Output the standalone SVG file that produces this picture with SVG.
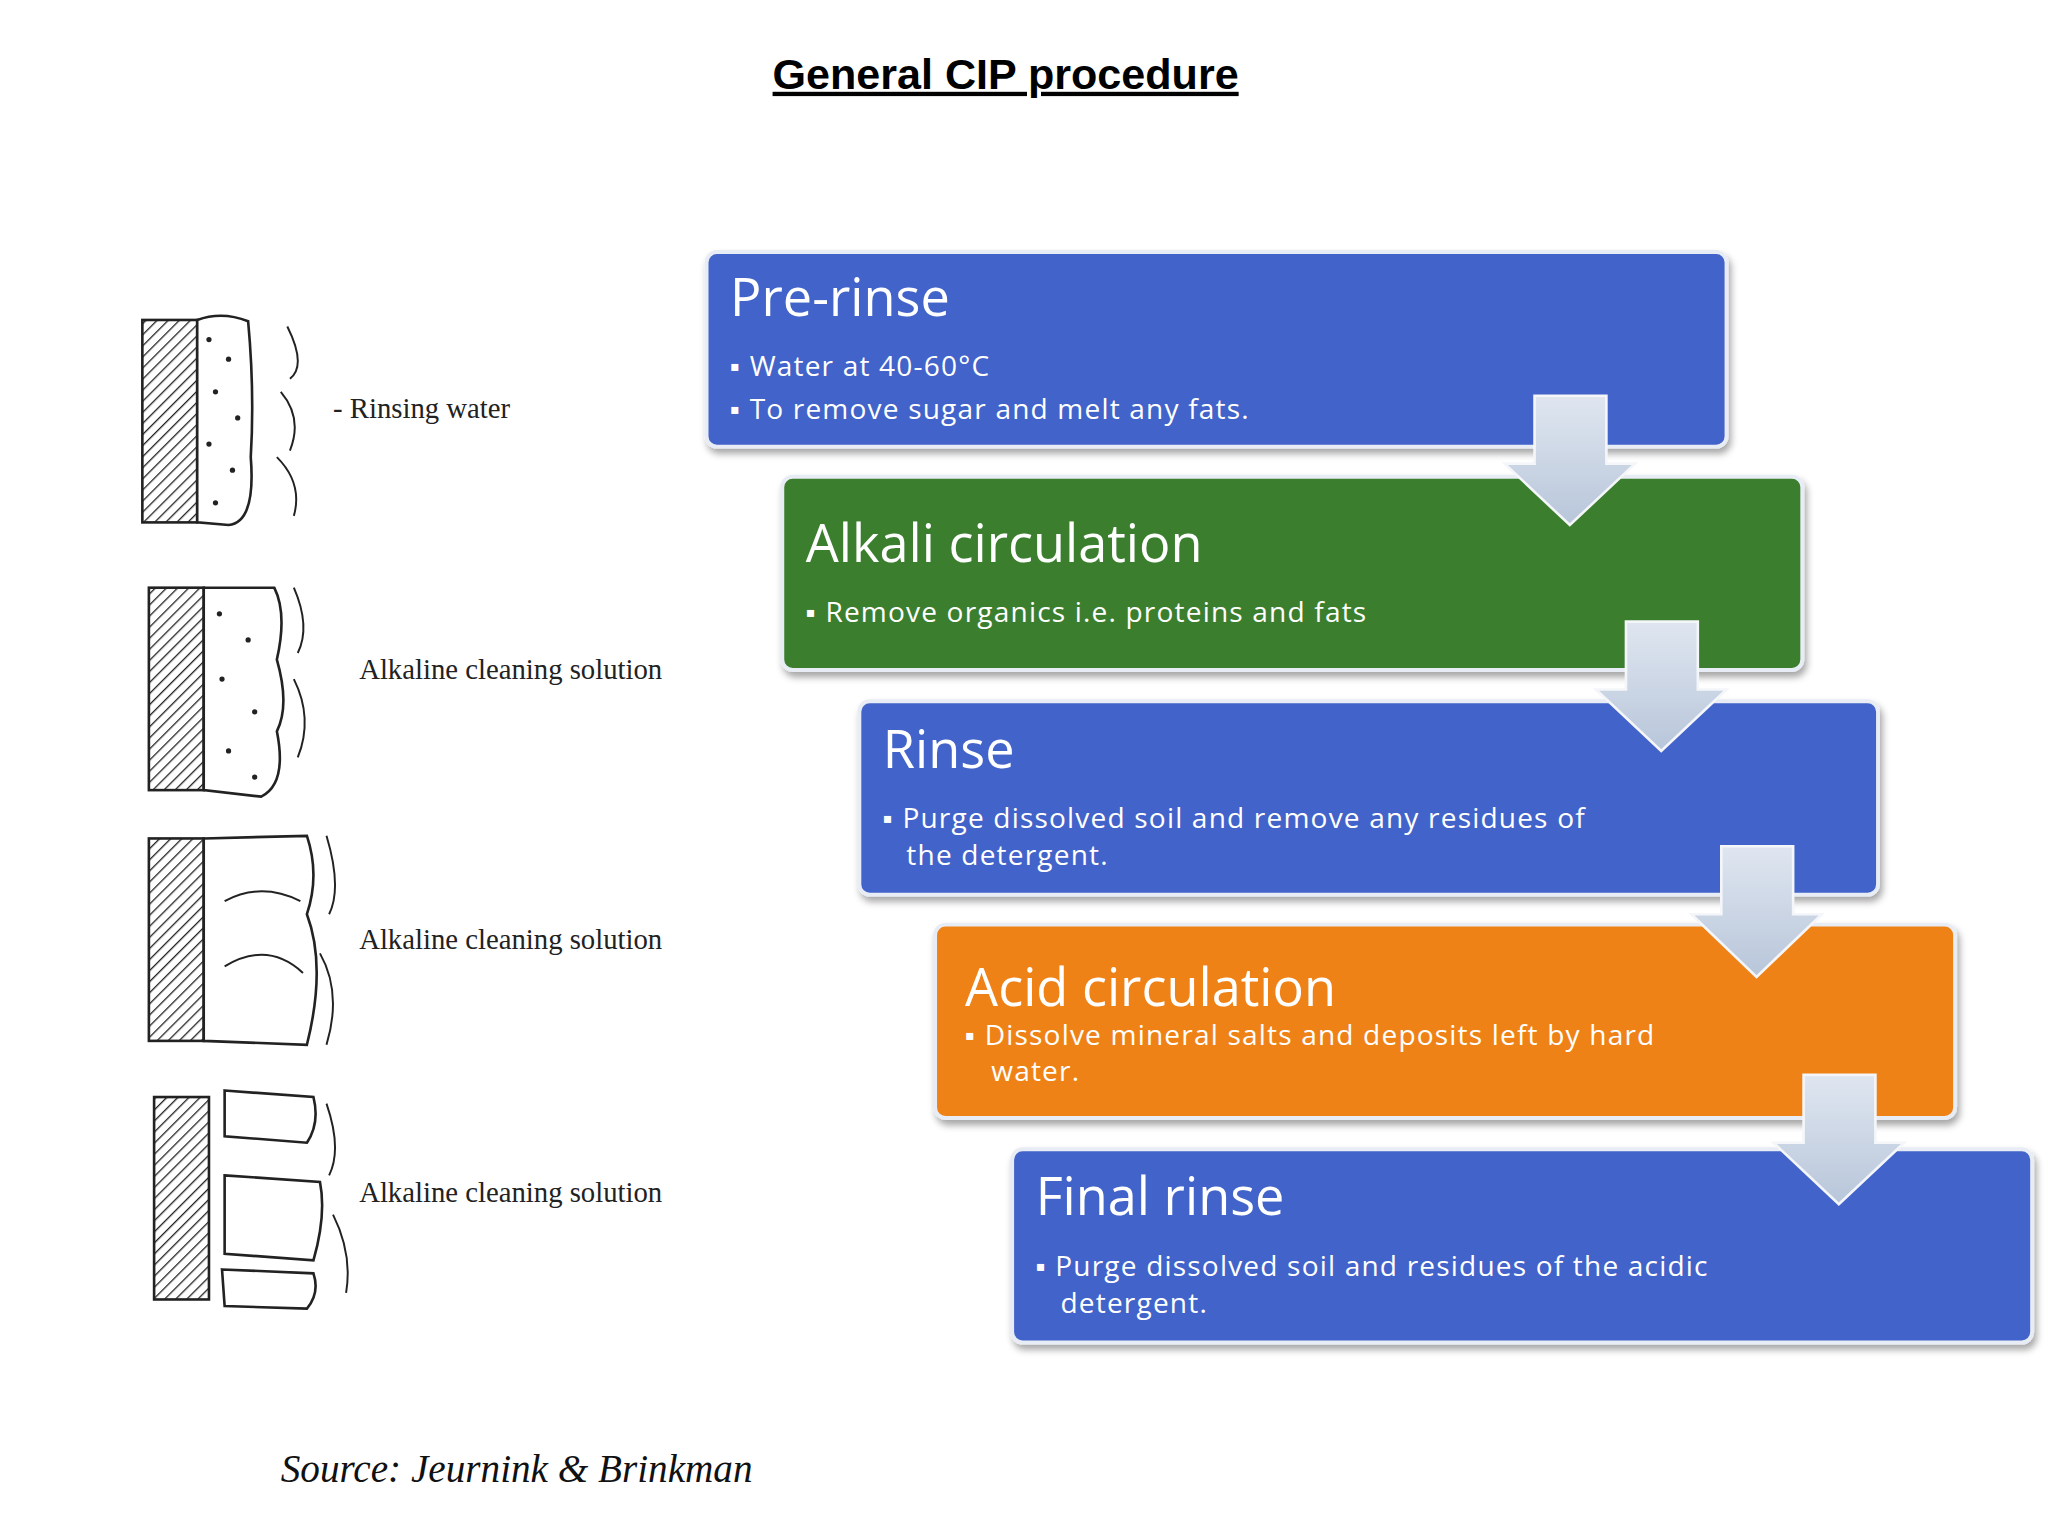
<svg xmlns="http://www.w3.org/2000/svg" width="2048" height="1536" viewBox="0 0 2048 1536">
<defs>
<pattern id="hatch" width="6" height="6" patternUnits="userSpaceOnUse" patternTransform="rotate(45)">
<rect width="6" height="6" fill="#fff"/><line x1="0" y1="0" x2="0" y2="6" stroke="#222" stroke-width="2"/>
</pattern>
<linearGradient id="arr" x1="0" y1="0" x2="0" y2="1"><stop offset="0" stop-color="#dfe6f0"/><stop offset="1" stop-color="#b8c6da"/></linearGradient>
<filter id="sh" x="-5%" y="-10%" width="110%" height="130%"><feDropShadow dx="2" dy="4" stdDeviation="3" flood-color="#000" flood-opacity="0.35"/></filter>
</defs>
<style>
.box{stroke:#e8ecf4;stroke-width:3;filter:url(#sh)}
.h{font-family:"Open Sans","Liberation Sans",sans-serif;font-size:40px;fill:#fff}
.b{font-family:"Open Sans","Liberation Sans",sans-serif;font-size:21.5px;letter-spacing:0.9px;fill:#fff}
.lab{font-family:"Liberation Serif",serif;font-size:22px;fill:#222}
.dep{fill:#fff;stroke:#222;stroke-width:2}
.flow{fill:none;stroke:#222;stroke-width:1.5}
.dot{fill:#222}
</style>
<rect width="2048" height="1536" fill="#fff"/>
<g transform="scale(1.306)">
<text x="770" y="68" text-anchor="middle" font-family="Liberation Sans,sans-serif" font-weight="bold" font-size="33" text-decoration="underline" fill="#000">General CIP procedure</text>

<g id="illustrations">
<rect x="109" y="245" width="42" height="155" fill="url(#hatch)" stroke="#222" stroke-width="2"/>
<path class="dep" d="M151 245 Q170 238 190 246 Q195 300 192 350 Q196 400 175 402 L151 400 Z"/>
<g class="dot"><circle cx="160" cy="260" r="2"/><circle cx="175" cy="275" r="2"/><circle cx="165" cy="300" r="2"/><circle cx="182" cy="320" r="2"/><circle cx="160" cy="340" r="2"/><circle cx="178" cy="360" r="2"/><circle cx="165" cy="385" r="2"/></g>
<path class="flow" d="M220 250 Q235 280 222 290 M215 300 Q232 320 222 345 M212 350 Q232 370 225 395"/>
<text class="lab" x="255" y="320">- Rinsing water</text>

<rect x="114" y="450" width="42" height="155" fill="url(#hatch)" stroke="#222" stroke-width="2"/>
<path class="dep" d="M156 450 L210 450 Q220 470 212 505 Q222 540 212 560 Q220 600 200 610 L156 605 Z"/>
<g class="dot"><circle cx="168" cy="470" r="2"/><circle cx="190" cy="490" r="2"/><circle cx="170" cy="520" r="2"/><circle cx="195" cy="545" r="2"/><circle cx="175" cy="575" r="2"/><circle cx="195" cy="595" r="2"/></g>
<path class="flow" d="M225 450 Q238 480 228 500 M225 520 Q240 550 228 580"/>
<text class="lab" x="275" y="520">Alkaline cleaning solution</text>

<rect x="114" y="642" width="42" height="155" fill="url(#hatch)" stroke="#222" stroke-width="2"/>
<path class="dep" d="M156 642 L235 640 Q245 670 235 700 Q250 740 235 800 L156 797 Z"/>
<path class="flow" d="M172 690 Q200 675 230 690 M172 740 Q205 720 232 745"/>
<path class="flow" d="M250 640 Q262 680 252 700 M245 730 Q262 760 250 800"/>
<text class="lab" x="275" y="727">Alkaline cleaning solution</text>

<rect x="118" y="840" width="42" height="155" fill="url(#hatch)" stroke="#222" stroke-width="2"/>
<path class="dep" d="M172 835 L240 840 Q245 860 235 875 L172 870 Z"/>
<path class="dep" d="M172 900 L245 905 Q250 930 240 965 L172 960 Z"/>
<path class="dep" d="M170 972 L240 975 Q245 990 235 1002 L172 1000 Z"/>
<path class="flow" d="M250 845 Q262 880 252 900 M255 930 Q270 960 265 990"/>
<text class="lab" x="275" y="920">Alkaline cleaning solution</text>
</g>

<g id="pre-rinse"><rect class="box" x="541" y="193" width="781" height="149" rx="8" fill="#4263c9"/>
<text class="h" x="559" y="242">Pre-rinse</text>
<text class="b" x="559" y="288">▪ Water at 40-60°C</text>
<text class="b" x="559" y="321">▪ To remove sugar and melt any fats.</text></g>

<g id="alkali"><rect class="box" x="599" y="365" width="781" height="148" rx="8" fill="#3b7e2f"/>
<text class="h" x="617" y="430">Alkali circulation</text>
<text class="b" x="617" y="476">▪ Remove organics i.e. proteins and fats</text></g>

<g id="rinse"><rect class="box" x="658" y="537" width="780" height="148" rx="8" fill="#4263c9"/>
<text class="h" x="676" y="588">Rinse</text>
<text class="b" x="676" y="634">▪ Purge dissolved soil and remove any residues of</text>
<text class="b" x="694" y="662">the  detergent.</text></g>

<g id="acid"><rect class="box" x="716" y="708" width="781" height="148" rx="8" fill="#ef8213"/>
<text class="h" x="739" y="770">Acid circulation</text>
<text class="b" x="739" y="800">▪ Dissolve mineral salts and deposits left by hard</text>
<text class="b" x="759" y="828">water.</text></g>

<g id="final-rinse"><rect class="box" x="775" y="880" width="781" height="148" rx="8" fill="#4263c9"/>
<text class="h" x="793" y="930">Final rinse</text>
<text class="b" x="793" y="977">▪ Purge dissolved soil and residues of the acidic</text>
<text class="b" x="812" y="1005">detergent.</text></g>

<g id="connectors" fill="url(#arr)" stroke="#f4f6fa" stroke-width="2">
<path d="M1175 303 H1230 V355 H1252 L1202 402 L1152 355 H1175 Z"/>
<path d="M1245 476 H1300 V528 H1322 L1272 575 L1222 528 H1245 Z"/>
<path d="M1318 648 H1373 V700 H1395 L1345 748 L1295 700 H1318 Z"/>
<path d="M1381 823 H1436 V875 H1458 L1408 922 L1358 875 H1381 Z"/>
</g>

<text x="215" y="1135" font-family="Liberation Serif,serif" font-style="italic" font-size="30" fill="#111">Source: Jeurnink &amp; Brinkman</text>
</g>
</svg>
